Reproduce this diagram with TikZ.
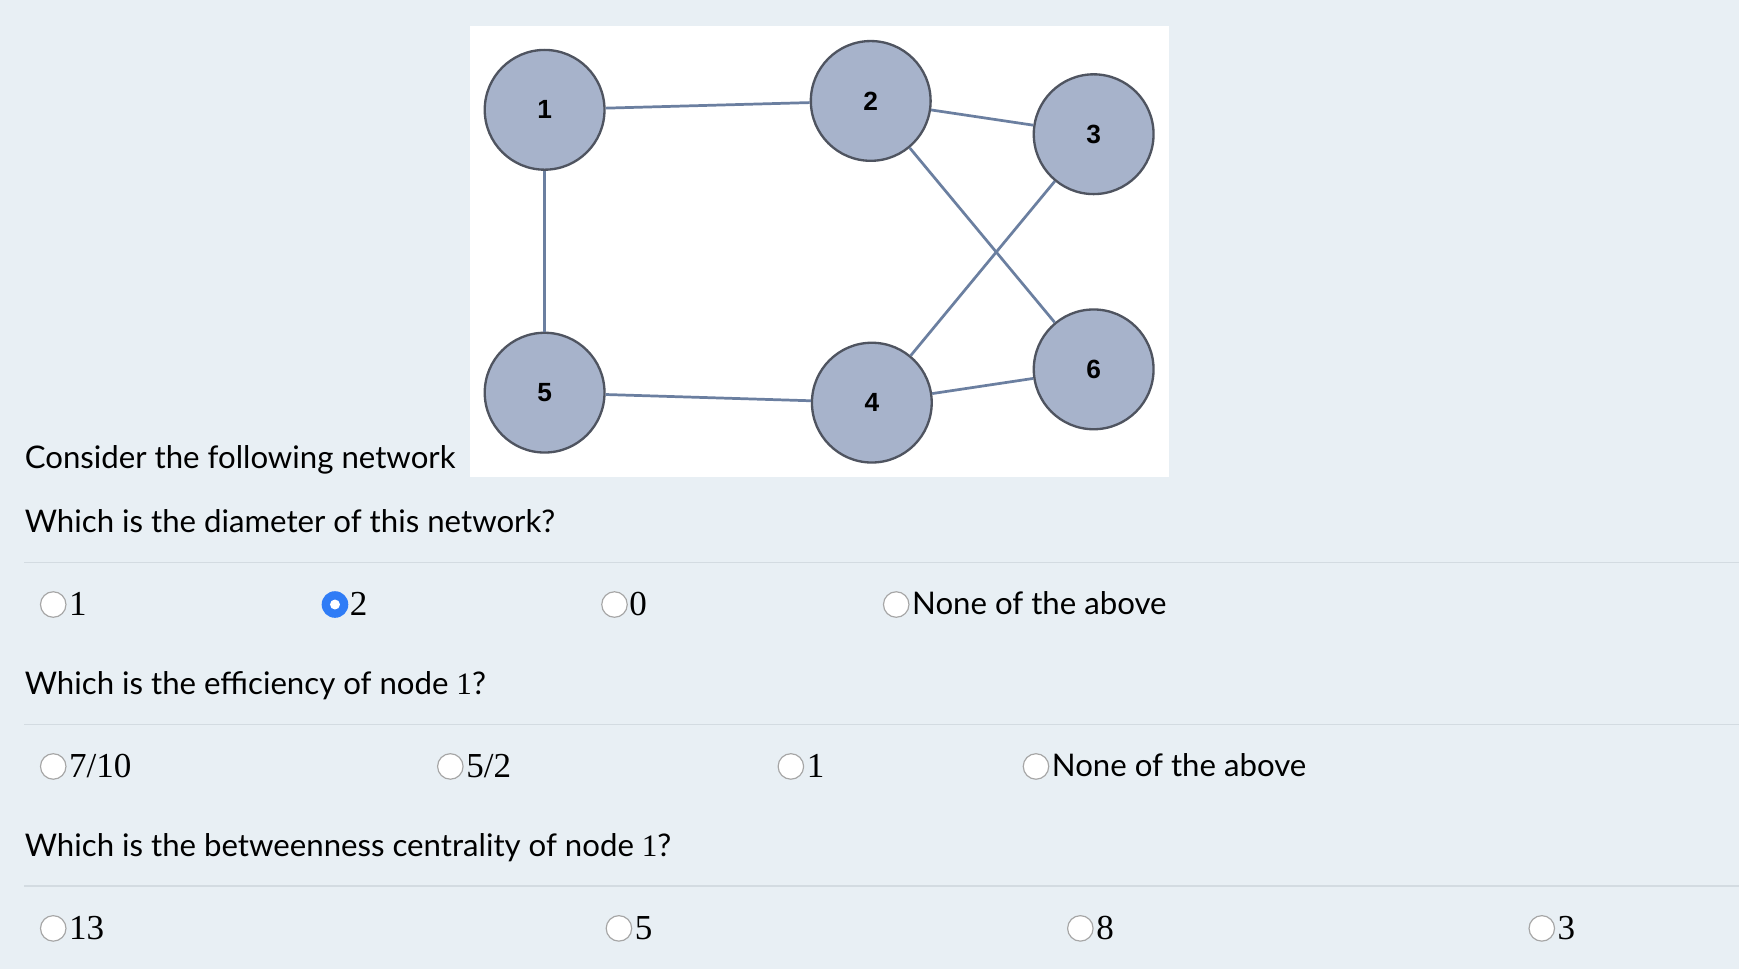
\documentclass[tikz,border=0pt]{standalone}
\usepackage{fontspec}
\setmainfont{Lato}
\newfontfamily\numfont{Liberation Serif}
\newfontfamily\nodefont{Liberation Sans}
\definecolor{bg}{HTML}{E8EFF4}
\definecolor{nfill}{HTML}{A7B3CB}
\definecolor{ndraw}{HTML}{4F5460}
\definecolor{edge}{HTML}{6B7FA0}
\definecolor{sep}{HTML}{D3DBE1}
\definecolor{sel}{HTML}{2F7CF6}
\tikzset{
 gnode/.style={circle,fill=nfill,draw=ndraw,line width=1.2pt,minimum size=2.16cm,inner sep=0pt,font=\nodefont\bfseries\fontsize{13.5}{16}\selectfont},
 gedge/.style={edge,line width=1.4pt},
 qtext/.style={anchor=base west,inner sep=0pt,font=\fontsize{16}{19}\selectfont},
 otext/.style={anchor=base west,inner sep=0pt,font=\numfont\fontsize{18}{21}\selectfont},
 radio/.style={circle,draw=gray!70,fill=white,line width=0.6pt,minimum size=0.46cm,inner sep=0pt},
 seline/.style={sep,line width=0.8pt}
}
\begin{document}
\begin{tikzpicture}[x=0.02cm,y=-0.02cm]
\fill[bg] (0,0) rectangle (1568,874);
\fill[white] (424,23) rectangle (1054,430);
\node[gnode] (n1) at (491,99) {1};
\node[gnode] (n2) at (785,91) {2};
\node[gnode] (n3) at (986,121) {3};
\node[gnode] (n4) at (786,363) {4};
\node[gnode] (n5) at (491,354) {5};
\node[gnode] (n6) at (986,333) {6};
\draw[gedge] (n1) -- (n2);
\draw[gedge] (n1) -- (n5);
\draw[gedge] (n5) -- (n4);
\draw[gedge] (n2) -- (n3);
\draw[gedge] (n2) -- (n6);
\draw[gedge] (n3) -- (n4);
\draw[gedge] (n4) -- (n6);
\node[qtext] (t0) at (22,422) {Consider the following network};
\node[qtext] (t1) at (22,480) {Which is the diameter of this network?};
\draw[seline] (22,507) -- (1568,507);
\node[radio] (r11) at (48,545) {};
\node[otext] at (62,555) {1};
\node[circle,fill=sel,minimum size=0.48cm,inner sep=0pt] (r12) at (302,545) {};
\fill[white] (302,545) circle (4.5);
\node[otext] at (315,555) {2};
\node[radio] (r13) at (554,545) {};
\node[otext] at (567,555) {0};
\node[radio] (r14) at (808,545) {};
\node[qtext] at (822,554) {None of the above};
\node[qtext] (t2) at (22,626) {Which is the efficiency of node {\numfont 1}?};
\draw[seline] (22,653) -- (1568,653);
\node[radio] at (48,691) {};
\node[otext] at (62,701) {7/10};
\node[radio] at (406,691) {};
\node[otext] at (420,701) {5/2};
\node[radio] at (713,691) {};
\node[otext] at (727,701) {1};
\node[radio] at (934,691) {};
\node[qtext] at (948,700) {None of the above};
\node[qtext] (t3) at (22,772) {Which is the betweenness centrality of node {\numfont 1}?};
\draw[seline] (22,799) -- (1568,799);
\node[radio] at (48,837) {};
\node[otext] at (62,847) {13};
\node[radio] at (558,837) {};
\node[otext] at (572,847) {5};
\node[radio] at (974,837) {};
\node[otext] at (988,847) {8};
\node[radio] at (1390,837) {};
\node[otext] at (1404,847) {3};
\end{tikzpicture}
\end{document}
